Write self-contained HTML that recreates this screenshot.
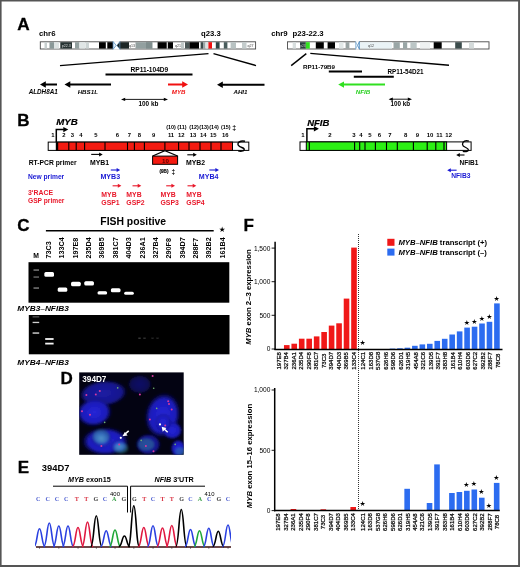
<!DOCTYPE html>
<html><head><meta charset="utf-8"><title>MYB-NFIB figure</title>
<style>
html,body{margin:0;padding:0;background:#fff;}
body{width:520px;height:567px;overflow:hidden;position:relative;font-family:"Liberation Sans", sans-serif;}
svg{position:absolute;left:0;top:0;}
svg text{font-family:"Liberation Sans", sans-serif;}
</style></head><body>
<svg width="520" height="567" viewBox="0 0 520 567">
<rect x="0" y="0" width="520" height="567" fill="#fff"/>
<path d="M0,0 H520 V567 H0 Z M1.6,1.6 V565.1 H518.1 V1.6 Z" fill="#555" fill-rule="evenodd"/>
<text x="17.2" y="30.3" font-size="17.2" font-weight="bold" font-style="normal" fill="#000" text-anchor="start" stroke="#000" stroke-width="0.3">A</text>
<text x="39" y="35.6" font-size="7.8" font-weight="bold" font-style="normal" fill="#000" text-anchor="start" >chr6</text>
<text x="201" y="35.8" font-size="7.7" font-weight="bold" font-style="normal" fill="#000" text-anchor="start" >q23.3</text>
<rect x="40.3" y="41.8" width="215.3" height="7.200000000000003" fill="#fff" stroke="#4a4a4a" stroke-width="0.9" />
<rect x="44.5" y="42.199999999999996" width="2.5" height="6.400000000000003" fill="#c8d0d0" stroke="none" stroke-width="0" />
<rect x="49.5" y="42.199999999999996" width="4.5" height="6.400000000000003" fill="#8a9898" stroke="none" stroke-width="0" />
<rect x="54" y="42.199999999999996" width="5" height="6.400000000000003" fill="#dde3e3" stroke="none" stroke-width="0" />
<rect x="60.3" y="42.199999999999996" width="11.700000000000003" height="6.400000000000003" fill="#283434" stroke="none" stroke-width="0" />
<rect x="75" y="42.199999999999996" width="4.400000000000006" height="6.400000000000003" fill="#93a0a0" stroke="none" stroke-width="0" />
<rect x="79.4" y="42.199999999999996" width="5.599999999999994" height="6.400000000000003" fill="#e0e6e6" stroke="none" stroke-width="0" />
<rect x="85.5" y="42.199999999999996" width="3.5" height="6.400000000000003" fill="#ccd4d4" stroke="none" stroke-width="0" />
<rect x="99" y="42.199999999999996" width="6.799999999999997" height="6.400000000000003" fill="#000" stroke="none" stroke-width="0" />
<rect x="107.3" y="42.199999999999996" width="5.799999999999997" height="6.400000000000003" fill="#000" stroke="none" stroke-width="0" />
<rect x="119.5" y="42.199999999999996" width="9.5" height="6.400000000000003" fill="#1c2626" stroke="none" stroke-width="0" />
<rect x="135.5" y="42.199999999999996" width="16.80000000000001" height="6.400000000000003" fill="#93a0a0" stroke="none" stroke-width="0" />
<rect x="146" y="42.199999999999996" width="6.300000000000011" height="6.400000000000003" fill="#7f8d8d" stroke="none" stroke-width="0" />
<rect x="157.6" y="42.199999999999996" width="9.099999999999994" height="6.400000000000003" fill="#000" stroke="none" stroke-width="0" />
<rect x="167.8" y="42.199999999999996" width="5.199999999999989" height="6.400000000000003" fill="#000" stroke="none" stroke-width="0" />
<rect x="181" y="42.199999999999996" width="3" height="6.400000000000003" fill="#c0c8c8" stroke="none" stroke-width="0" />
<rect x="185" y="42.199999999999996" width="4.400000000000006" height="6.400000000000003" fill="#4a5656" stroke="none" stroke-width="0" />
<rect x="189.4" y="42.199999999999996" width="9.599999999999994" height="6.400000000000003" fill="#000" stroke="none" stroke-width="0" />
<rect x="200.6" y="42.199999999999996" width="2.4000000000000057" height="6.400000000000003" fill="#3c4c4c" stroke="none" stroke-width="0" />
<rect x="203" y="42.199999999999996" width="2.5" height="6.400000000000003" fill="#9aa6a6" stroke="none" stroke-width="0" />
<rect x="205.5" y="42.199999999999996" width="2.5" height="6.400000000000003" fill="#dde3e3" stroke="none" stroke-width="0" />
<rect x="208.4" y="42.199999999999996" width="3.5999999999999943" height="6.400000000000003" fill="#f01010" stroke="none" stroke-width="0" />
<rect x="215.8" y="42.199999999999996" width="3.799999999999983" height="6.400000000000003" fill="#2c4444" stroke="none" stroke-width="0" />
<rect x="223.8" y="42.199999999999996" width="3.5999999999999943" height="6.400000000000003" fill="#4a5c5c" stroke="none" stroke-width="0" />
<rect x="230.6" y="42.199999999999996" width="5.400000000000006" height="6.400000000000003" fill="#b8c2c2" stroke="none" stroke-width="0" />
<rect x="242" y="42.199999999999996" width="4.5" height="6.400000000000003" fill="#c4cccc" stroke="none" stroke-width="0" />
<rect x="113.1" y="41.099999999999994" width="6.7" height="8.600000000000003" fill="#fff" stroke="none" stroke-width="0" />
<path d="M113.1,41.5 L116.2,45.4 L113.1,49.3 Z" fill="#e4eef6" stroke="#5a94c4" stroke-width="0.8"/>
<path d="M119.9,41.5 L116.8,45.4 L119.9,49.3 Z" fill="#1c2626" stroke="#5a94c4" stroke-width="0.6"/>
<text x="66.2" y="47.4" font-size="3.6" font-weight="normal" font-style="normal" fill="#ddd" text-anchor="middle" >p22.3</text>
<text x="132" y="47.4" font-size="3.6" font-weight="normal" font-style="normal" fill="#444" text-anchor="middle" >q13</text>
<text x="178" y="47.4" font-size="3.6" font-weight="normal" font-style="normal" fill="#444" text-anchor="middle" >q21</text>
<text x="250.5" y="47.4" font-size="3.6" font-weight="normal" font-style="normal" fill="#444" text-anchor="middle" >q27</text>
<line x1="208.5" y1="53.6" x2="60" y2="65.6" stroke="#000" stroke-width="1.4" />
<line x1="213.5" y1="53.6" x2="256" y2="65.6" stroke="#000" stroke-width="1.4" />
<text x="130.5" y="72" font-size="6.6" font-weight="bold" font-style="normal" fill="#000" text-anchor="start" >RP11-104D9</text>
<line x1="105.5" y1="74.6" x2="192.5" y2="74.6" stroke="#000" stroke-width="2" />
<line x1="57" y1="84.5" x2="43.48" y2="84.5" stroke="#000" stroke-width="2" />
<polygon points="40,84.5 45.8,81.3 45.8,87.7" fill="#000"/>
<line x1="111" y1="84.5" x2="67.98" y2="84.5" stroke="#000" stroke-width="2" />
<polygon points="64.5,84.5 70.3,81.3 70.3,87.7" fill="#000"/>
<line x1="168" y1="84.5" x2="184.52" y2="84.5" stroke="#f01010" stroke-width="2" />
<polygon points="188,84.5 182.2,81.3 182.2,87.7" fill="#f01010"/>
<line x1="264.5" y1="84.7" x2="220.48" y2="84.7" stroke="#000" stroke-width="2" />
<polygon points="217,84.7 222.8,81.5 222.8,87.9" fill="#000"/>
<text x="43.2" y="93.8" font-size="6.3" font-weight="bold" font-style="italic" fill="#000" text-anchor="middle" >ALDH8A1</text>
<text x="87.8" y="93.8" font-size="6.2" font-weight="bold" font-style="italic" fill="#000" text-anchor="middle" >HBS1L</text>
<text x="178.7" y="94.4" font-size="6.2" font-weight="bold" font-style="italic" fill="#f01010" text-anchor="middle" >MYB</text>
<text x="240.5" y="94.4" font-size="6.2" font-weight="bold" font-style="italic" fill="#000" text-anchor="middle" >AHI1</text>
<line x1="123" y1="99.4" x2="166" y2="99.4" stroke="#000" stroke-width="0.9" />
<polygon points="121,99.4 125.2,97.7 125.2,101.1" fill="#000"/><polygon points="168,99.4 163.8,97.7 163.8,101.1" fill="#000"/>
<text x="148.4" y="106.4" font-size="6.4" font-weight="bold" font-style="normal" fill="#000" text-anchor="middle" >100 kb</text>
<text x="271.2" y="35.6" font-size="7.8" font-weight="bold" font-style="normal" fill="#000" text-anchor="start" >chr9</text>
<text x="292.5" y="35.6" font-size="7.8" font-weight="bold" font-style="normal" fill="#000" text-anchor="start" >p23-22.3</text>
<rect x="287.5" y="41.8" width="201.5" height="7.200000000000003" fill="#fff" stroke="#4a4a4a" stroke-width="0.9" />
<rect x="359.8" y="42.199999999999996" width="32.19999999999999" height="6.400000000000003" fill="#eaf3f6" stroke="none" stroke-width="0" />
<rect x="292.7" y="42.199999999999996" width="3.3000000000000114" height="6.400000000000003" fill="#d8dede" stroke="none" stroke-width="0" />
<rect x="300" y="42.199999999999996" width="5.800000000000011" height="6.400000000000003" fill="#2c4040" stroke="none" stroke-width="0" />
<rect x="305.8" y="42.199999999999996" width="4.0" height="6.400000000000003" fill="#30e020" stroke="none" stroke-width="0" />
<rect x="315.8" y="42.199999999999996" width="8.0" height="6.400000000000003" fill="#000" stroke="none" stroke-width="0" />
<rect x="327.6" y="42.199999999999996" width="7.399999999999977" height="6.400000000000003" fill="#000" stroke="none" stroke-width="0" />
<rect x="339" y="42.199999999999996" width="4.5" height="6.400000000000003" fill="#e2e8e8" stroke="none" stroke-width="0" />
<rect x="345.6" y="42.199999999999996" width="3.7999999999999545" height="6.400000000000003" fill="#9aa4a4" stroke="none" stroke-width="0" />
<rect x="393.5" y="42.199999999999996" width="6.300000000000011" height="6.400000000000003" fill="#9aa6a6" stroke="none" stroke-width="0" />
<rect x="403" y="42.199999999999996" width="4.199999999999989" height="6.400000000000003" fill="#9aa6a6" stroke="none" stroke-width="0" />
<rect x="410.4" y="42.199999999999996" width="6.300000000000011" height="6.400000000000003" fill="#bcc6c6" stroke="none" stroke-width="0" />
<rect x="420" y="42.199999999999996" width="10" height="6.400000000000003" fill="#eef1f1" stroke="none" stroke-width="0" />
<rect x="433.7" y="42.199999999999996" width="8.0" height="6.400000000000003" fill="#000" stroke="none" stroke-width="0" />
<rect x="455.2" y="42.199999999999996" width="6.600000000000023" height="6.400000000000003" fill="#3c4c4c" stroke="none" stroke-width="0" />
<rect x="469" y="42.199999999999996" width="5" height="6.400000000000003" fill="#d4dada" stroke="none" stroke-width="0" />
<rect x="355.6" y="41.099999999999994" width="3.8" height="8.600000000000003" fill="#fff" stroke="none" stroke-width="0" />
<path d="M355.6,41.5 L357.3,45.4 L355.6,49.3 Z" fill="#f4f8fb" stroke="#6a9cc8" stroke-width="0.6"/>
<path d="M359.4,41.5 L357.6,45.4 L359.4,49.3 Z" fill="#dcebf4" stroke="#4a88c0" stroke-width="0.8"/>
<text x="371" y="47.4" font-size="3.6" font-weight="normal" font-style="normal" fill="#444" text-anchor="middle" >q12</text>
<text x="303" y="47.2" font-size="3.2" font-weight="normal" font-style="normal" fill="#ccc" text-anchor="middle" >p23</text>
<line x1="306.3" y1="53.6" x2="291.2" y2="65.6" stroke="#000" stroke-width="1.4" />
<line x1="310.3" y1="53.4" x2="449" y2="65.2" stroke="#000" stroke-width="1.4" />
<text x="303" y="68.9" font-size="6.2" font-weight="bold" font-style="normal" fill="#000" text-anchor="start" >RP11-79B9</text>
<line x1="328.8" y1="71.4" x2="362" y2="71.4" stroke="#000" stroke-width="2" />
<line x1="353.8" y1="76.7" x2="393.8" y2="76.7" stroke="#000" stroke-width="2" />
<text x="387.5" y="73.9" font-size="6.3" font-weight="bold" font-style="normal" fill="#000" text-anchor="start" >RP11-54D21</text>
<line x1="385" y1="84.6" x2="341.68" y2="84.6" stroke="#30e020" stroke-width="2" />
<polygon points="338.2,84.6 344.0,81.39999999999999 344.0,87.8" fill="#30e020"/>
<text x="363" y="93.9" font-size="6.2" font-weight="bold" font-style="italic" fill="#28d020" text-anchor="middle" >NFIB</text>
<line x1="390.5" y1="99.2" x2="410" y2="99.2" stroke="#000" stroke-width="0.9" />
<polygon points="388.6,99.2 392.8,97.5 392.8,100.9" fill="#000"/><polygon points="412,99.2 407.8,97.5 407.8,100.9" fill="#000"/>
<text x="400.3" y="106" font-size="6.3" font-weight="bold" font-style="normal" fill="#000" text-anchor="middle" >100 kb</text>
<text x="17.2" y="125.8" font-size="17" font-weight="bold" font-style="normal" fill="#000" text-anchor="start" stroke="#000" stroke-width="0.3">B</text>
<text x="56.3" y="125.2" font-size="9.7" font-weight="bold" font-style="italic" fill="#000" text-anchor="start" stroke="#000" stroke-width="0.2">MYB</text>
<path d="M56.3,142 V129.6 H64" stroke="#000" stroke-width="1.5" fill="none"/><polygon points="68.3,129.6 63.3,126.9 63.3,132.3" fill="#000"/>
<rect x="48.2" y="142.1" width="200.6" height="8.3" fill="#fff" stroke="#000" stroke-width="1" />
<rect x="56.3" y="142.1" width="176.2" height="8.3" fill="#f41a10" stroke="#000" stroke-width="1" />
<line x1="68.8" y1="142.1" x2="68.8" y2="150.4" stroke="#000" stroke-width="1.1" />
<line x1="76.2" y1="142.1" x2="76.2" y2="150.4" stroke="#000" stroke-width="1.1" />
<line x1="84.6" y1="142.1" x2="84.6" y2="150.4" stroke="#000" stroke-width="1.1" />
<line x1="105" y1="142.1" x2="105" y2="150.4" stroke="#000" stroke-width="1.1" />
<line x1="127.5" y1="142.1" x2="127.5" y2="150.4" stroke="#000" stroke-width="1.1" />
<line x1="134.4" y1="142.1" x2="134.4" y2="150.4" stroke="#000" stroke-width="1.1" />
<line x1="144.4" y1="142.1" x2="144.4" y2="150.4" stroke="#000" stroke-width="1.1" />
<line x1="164.9" y1="142.1" x2="164.9" y2="150.4" stroke="#000" stroke-width="1.1" />
<line x1="178.6" y1="142.1" x2="178.6" y2="150.4" stroke="#000" stroke-width="1.1" />
<line x1="189" y1="142.1" x2="189" y2="150.4" stroke="#000" stroke-width="1.1" />
<line x1="200" y1="142.1" x2="200" y2="150.4" stroke="#000" stroke-width="1.1" />
<line x1="211" y1="142.1" x2="211" y2="150.4" stroke="#000" stroke-width="1.1" />
<line x1="221" y1="142.1" x2="221" y2="150.4" stroke="#000" stroke-width="1.1" />
<line x1="57.1" y1="142.1" x2="57.1" y2="150.4" stroke="#000" stroke-width="2.2" />
<path d="M245,141.3 C240.5,140.2 236.6,142.6 238.4,145.4 C240,147.8 244.6,147.4 244.2,149.6 C243.8,151.4 240.4,151.5 238.2,150.9" stroke="#000" stroke-width="1.4" fill="none"/>
<text x="53" y="136.9" font-size="5.9" font-weight="bold" font-style="normal" fill="#000" text-anchor="middle" >1</text>
<text x="64" y="136.9" font-size="5.9" font-weight="bold" font-style="normal" fill="#000" text-anchor="middle" >2</text>
<text x="72.5" y="136.9" font-size="5.9" font-weight="bold" font-style="normal" fill="#000" text-anchor="middle" >3</text>
<text x="81" y="136.9" font-size="5.9" font-weight="bold" font-style="normal" fill="#000" text-anchor="middle" >4</text>
<text x="96" y="136.9" font-size="5.9" font-weight="bold" font-style="normal" fill="#000" text-anchor="middle" >5</text>
<text x="117.5" y="136.9" font-size="5.9" font-weight="bold" font-style="normal" fill="#000" text-anchor="middle" >6</text>
<text x="129.5" y="136.9" font-size="5.9" font-weight="bold" font-style="normal" fill="#000" text-anchor="middle" >7</text>
<text x="139.5" y="136.9" font-size="5.9" font-weight="bold" font-style="normal" fill="#000" text-anchor="middle" >8</text>
<text x="153.7" y="136.9" font-size="5.9" font-weight="bold" font-style="normal" fill="#000" text-anchor="middle" >9</text>
<text x="171" y="136.9" font-size="5.9" font-weight="bold" font-style="normal" fill="#000" text-anchor="middle" >11</text>
<text x="181.3" y="136.9" font-size="5.9" font-weight="bold" font-style="normal" fill="#000" text-anchor="middle" >12</text>
<text x="193" y="136.9" font-size="5.9" font-weight="bold" font-style="normal" fill="#000" text-anchor="middle" >13</text>
<text x="203.3" y="136.9" font-size="5.9" font-weight="bold" font-style="normal" fill="#000" text-anchor="middle" >14</text>
<text x="213.3" y="136.9" font-size="5.9" font-weight="bold" font-style="normal" fill="#000" text-anchor="middle" >15</text>
<text x="225.3" y="136.9" font-size="5.9" font-weight="bold" font-style="normal" fill="#000" text-anchor="middle" >16</text>
<text x="171" y="129.4" font-size="5.4" font-weight="bold" font-style="normal" fill="#000" text-anchor="middle" >(10)</text>
<text x="181.8" y="129.4" font-size="5.4" font-weight="bold" font-style="normal" fill="#000" text-anchor="middle" >(11)</text>
<text x="194" y="129.4" font-size="5.4" font-weight="bold" font-style="normal" fill="#000" text-anchor="middle" >(12)</text>
<text x="204" y="129.4" font-size="5.4" font-weight="bold" font-style="normal" fill="#000" text-anchor="middle" >(13)</text>
<text x="214" y="129.4" font-size="5.4" font-weight="bold" font-style="normal" fill="#000" text-anchor="middle" >(14)</text>
<text x="225.8" y="129.4" font-size="5.4" font-weight="bold" font-style="normal" fill="#000" text-anchor="middle" >(15)</text>
<text x="234.3" y="129.8" font-size="7" font-weight="bold" font-style="normal" fill="#000" text-anchor="middle" >‡</text>
<path d="M152.7,156 L164.9,150.6 L177.6,156" stroke="#000" stroke-width="1.2" fill="#fff"/>
<rect x="152.6" y="156.1" width="25" height="8.2" fill="#f41a10" stroke="#000" stroke-width="1" />
<text x="165.4" y="162.9" font-size="6.2" font-weight="bold" font-style="normal" fill="#5a0000" text-anchor="middle" >10</text>
<text x="164" y="172.9" font-size="4.6" font-weight="bold" font-style="normal" fill="#000" text-anchor="middle" stroke="#000" stroke-width="0.15">(9B)</text>
<text x="173.2" y="173.6" font-size="6.5" font-weight="bold" font-style="normal" fill="#000" text-anchor="middle" >‡</text>
<text x="28.7" y="164.8" font-size="6.75" font-weight="bold" font-style="normal" fill="#000" text-anchor="start" >RT-PCR primer</text>
<text x="90" y="164.6" font-size="6.9" font-weight="bold" font-style="normal" fill="#000" text-anchor="start" >MYB1</text>
<line x1="91.2" y1="154.4" x2="100.54" y2="154.4" stroke="#000" stroke-width="1.1" />
<polygon points="102.7,154.4 99.10000000000001,152.4 99.10000000000001,156.4" fill="#000"/>
<text x="186" y="164.6" font-size="6.9" font-weight="bold" font-style="normal" fill="#000" text-anchor="start" >MYB2</text>
<line x1="187.3" y1="154.8" x2="194.64000000000001" y2="154.8" stroke="#000" stroke-width="1.1" />
<polygon points="196.8,154.8 193.20000000000002,152.8 193.20000000000002,156.8" fill="#000"/>
<text x="28" y="178.8" font-size="6.65" font-weight="bold" font-style="normal" fill="#1818d4" text-anchor="start" >New primer</text>
<text x="100.4" y="179" font-size="7.1" font-weight="bold" font-style="normal" fill="#1818d4" text-anchor="start" >MYB3</text>
<line x1="110.8" y1="170" x2="118.04" y2="170" stroke="#1818d4" stroke-width="1.1" />
<polygon points="120.2,170 116.60000000000001,168 116.60000000000001,172" fill="#1818d4"/>
<text x="198.8" y="179" font-size="7.1" font-weight="bold" font-style="normal" fill="#1818d4" text-anchor="start" >MYB4</text>
<line x1="209.3" y1="170" x2="216.84" y2="170" stroke="#1818d4" stroke-width="1.1" />
<polygon points="219,170 215.4,168 215.4,172" fill="#1818d4"/>
<text x="28" y="195" font-size="6.9" font-weight="bold" font-style="normal" fill="#e8182a" text-anchor="start" >3ʹRACE</text>
<text x="28" y="203" font-size="6.65" font-weight="bold" font-style="normal" fill="#e8182a" text-anchor="start" >GSP primer</text>
<text x="101.3" y="196.7" font-size="6.9" font-weight="bold" font-style="normal" fill="#e8182a" text-anchor="start" >MYB</text>
<text x="101.3" y="204.6" font-size="6.9" font-weight="bold" font-style="normal" fill="#e8182a" text-anchor="start" >GSP1</text>
<line x1="112.6" y1="185.8" x2="119.24" y2="185.8" stroke="#e8182a" stroke-width="1.1" />
<polygon points="121.39999999999999,185.8 117.8,183.8 117.8,187.8" fill="#e8182a"/>
<text x="126.3" y="196.7" font-size="6.9" font-weight="bold" font-style="normal" fill="#e8182a" text-anchor="start" >MYB</text>
<text x="126.3" y="204.6" font-size="6.9" font-weight="bold" font-style="normal" fill="#e8182a" text-anchor="start" >GSP2</text>
<line x1="132.5" y1="185.8" x2="139.14000000000001" y2="185.8" stroke="#e8182a" stroke-width="1.1" />
<polygon points="141.3,185.8 137.70000000000002,183.8 137.70000000000002,187.8" fill="#e8182a"/>
<text x="160.5" y="196.7" font-size="6.9" font-weight="bold" font-style="normal" fill="#e8182a" text-anchor="start" >MYB</text>
<text x="160.5" y="204.6" font-size="6.9" font-weight="bold" font-style="normal" fill="#e8182a" text-anchor="start" >GSP3</text>
<line x1="166.2" y1="185.8" x2="172.84" y2="185.8" stroke="#e8182a" stroke-width="1.1" />
<polygon points="175.0,185.8 171.4,183.8 171.4,187.8" fill="#e8182a"/>
<text x="186.3" y="196.7" font-size="6.9" font-weight="bold" font-style="normal" fill="#e8182a" text-anchor="start" >MYB</text>
<text x="186.3" y="204.6" font-size="6.9" font-weight="bold" font-style="normal" fill="#e8182a" text-anchor="start" >GSP4</text>
<line x1="187.5" y1="185.8" x2="194.14000000000001" y2="185.8" stroke="#e8182a" stroke-width="1.1" />
<polygon points="196.3,185.8 192.70000000000002,183.8 192.70000000000002,187.8" fill="#e8182a"/>
<text x="307.2" y="125.6" font-size="9.5" font-weight="bold" font-style="italic" fill="#000" text-anchor="start" stroke="#000" stroke-width="0.2">NFIB</text>
<path d="M306.9,142 V128.7 H314.5" stroke="#000" stroke-width="1.5" fill="none"/><polygon points="318.9,128.7 313.9,126 313.9,131.4" fill="#000"/>
<rect x="300" y="141.9" width="171.1" height="8.5" fill="#fff" stroke="#000" stroke-width="1" />
<rect x="306.3" y="141.9" width="140.3" height="8.5" fill="#2cf014" stroke="#000" stroke-width="1" />
<line x1="309.3" y1="141.9" x2="309.3" y2="150.4" stroke="#000" stroke-width="1.1" />
<line x1="354.6" y1="141.9" x2="354.6" y2="150.4" stroke="#000" stroke-width="1.1" />
<line x1="359.7" y1="141.9" x2="359.7" y2="150.4" stroke="#000" stroke-width="1.1" />
<line x1="365" y1="141.9" x2="365" y2="150.4" stroke="#000" stroke-width="1.1" />
<line x1="375.4" y1="141.9" x2="375.4" y2="150.4" stroke="#000" stroke-width="1.1" />
<line x1="386.5" y1="141.9" x2="386.5" y2="150.4" stroke="#000" stroke-width="1.1" />
<line x1="397.3" y1="141.9" x2="397.3" y2="150.4" stroke="#000" stroke-width="1.1" />
<line x1="413.4" y1="141.9" x2="413.4" y2="150.4" stroke="#000" stroke-width="1.1" />
<line x1="427.2" y1="141.9" x2="427.2" y2="150.4" stroke="#000" stroke-width="1.1" />
<line x1="435.8" y1="141.9" x2="435.8" y2="150.4" stroke="#000" stroke-width="1.1" />
<line x1="444" y1="141.9" x2="444" y2="150.4" stroke="#000" stroke-width="1.2" />
<path d="M468.8,141.2 C466,139.8 462.4,141.4 462.5,144.4 C462.6,147.6 468.6,147.4 468.4,150 C468.2,151.8 464.8,151.9 462.8,151.3" stroke="#000" stroke-width="1.3" fill="none"/>
<text x="303" y="136.5" font-size="6.0" font-weight="bold" font-style="normal" fill="#000" text-anchor="middle" >1</text>
<text x="330" y="136.5" font-size="6.0" font-weight="bold" font-style="normal" fill="#000" text-anchor="middle" >2</text>
<text x="354" y="136.5" font-size="6.0" font-weight="bold" font-style="normal" fill="#000" text-anchor="middle" >3</text>
<text x="361" y="136.5" font-size="6.0" font-weight="bold" font-style="normal" fill="#000" text-anchor="middle" >4</text>
<text x="369.8" y="136.5" font-size="6.0" font-weight="bold" font-style="normal" fill="#000" text-anchor="middle" >5</text>
<text x="379.3" y="136.5" font-size="6.0" font-weight="bold" font-style="normal" fill="#000" text-anchor="middle" >6</text>
<text x="389.8" y="136.5" font-size="6.0" font-weight="bold" font-style="normal" fill="#000" text-anchor="middle" >7</text>
<text x="405.7" y="136.5" font-size="6.0" font-weight="bold" font-style="normal" fill="#000" text-anchor="middle" >8</text>
<text x="417.3" y="136.5" font-size="6.0" font-weight="bold" font-style="normal" fill="#000" text-anchor="middle" >9</text>
<text x="430" y="136.5" font-size="6.0" font-weight="bold" font-style="normal" fill="#000" text-anchor="middle" >10</text>
<text x="439.5" y="136.5" font-size="6.0" font-weight="bold" font-style="normal" fill="#000" text-anchor="middle" >11</text>
<text x="448.7" y="136.5" font-size="6.0" font-weight="bold" font-style="normal" fill="#000" text-anchor="middle" >12</text>
<line x1="464.5" y1="155" x2="458.36" y2="155" stroke="#000" stroke-width="1.1" />
<polygon points="456.2,155 459.8,153 459.8,157" fill="#000"/>
<text x="459.6" y="164.5" font-size="6.5" font-weight="bold" font-style="normal" fill="#000" text-anchor="start" >NFIB1</text>
<line x1="456.6" y1="170.2" x2="449.36" y2="170.2" stroke="#1818d4" stroke-width="1.1" />
<polygon points="447.2,170.2 450.8,168.2 450.8,172.2" fill="#1818d4"/>
<text x="451.2" y="178" font-size="6.7" font-weight="bold" font-style="normal" fill="#1818d4" text-anchor="start" >NFIB3</text>
<text x="17.2" y="231" font-size="17" font-weight="bold" font-style="normal" fill="#000" text-anchor="start" stroke="#000" stroke-width="0.3">C</text>
<text x="133.2" y="225.2" font-size="10.4" font-weight="bold" font-style="normal" fill="#000" text-anchor="middle" >FISH positive</text>
<line x1="45.9" y1="230.8" x2="213.7" y2="230.8" stroke="#000" stroke-width="1.4" />
<text x="222.2" y="232.036" font-size="7.6" text-anchor="middle" style='font-family:"DejaVu Sans", sans-serif' fill="#000">★</text>
<text x="36.1" y="257.5" font-size="6.8" font-weight="bold" font-style="normal" fill="#000" text-anchor="middle" >M</text>
<text transform="translate(50.9,258.5) rotate(-90)" font-size="7.2" font-weight="bold" font-style="normal" fill="#000" text-anchor="start" >73C3</text>
<text transform="translate(64.28,258.5) rotate(-90)" font-size="7.2" font-weight="bold" font-style="normal" fill="#000" text-anchor="start" >133C4</text>
<text transform="translate(77.66,258.5) rotate(-90)" font-size="7.2" font-weight="bold" font-style="normal" fill="#000" text-anchor="start" >197E8</text>
<text transform="translate(91.03999999999999,258.5) rotate(-90)" font-size="7.2" font-weight="bold" font-style="normal" fill="#000" text-anchor="start" >235D4</text>
<text transform="translate(104.41999999999999,258.5) rotate(-90)" font-size="7.2" font-weight="bold" font-style="normal" fill="#000" text-anchor="start" >369B5</text>
<text transform="translate(117.8,258.5) rotate(-90)" font-size="7.2" font-weight="bold" font-style="normal" fill="#000" text-anchor="start" >381C7</text>
<text transform="translate(131.17999999999998,258.5) rotate(-90)" font-size="7.2" font-weight="bold" font-style="normal" fill="#000" text-anchor="start" >404D3</text>
<text transform="translate(144.56,258.5) rotate(-90)" font-size="7.2" font-weight="bold" font-style="normal" fill="#000" text-anchor="start" >236A1</text>
<text transform="translate(157.94,258.5) rotate(-90)" font-size="7.2" font-weight="bold" font-style="normal" fill="#000" text-anchor="start" >327B4</text>
<text transform="translate(171.32,258.5) rotate(-90)" font-size="7.2" font-weight="bold" font-style="normal" fill="#000" text-anchor="start" >290F8</text>
<text transform="translate(184.70000000000002,258.5) rotate(-90)" font-size="7.2" font-weight="bold" font-style="normal" fill="#000" text-anchor="start" >394D7</text>
<text transform="translate(198.08,258.5) rotate(-90)" font-size="7.2" font-weight="bold" font-style="normal" fill="#000" text-anchor="start" >288F7</text>
<text transform="translate(211.46,258.5) rotate(-90)" font-size="7.2" font-weight="bold" font-style="normal" fill="#000" text-anchor="start" >392B2</text>
<text transform="translate(224.84,258.5) rotate(-90)" font-size="7.2" font-weight="bold" font-style="normal" fill="#000" text-anchor="start" >161B4</text>
<defs><filter id="bl" x="-20%" y="-60%" width="140%" height="220%"><feGaussianBlur stdDeviation="0.7"/></filter><filter id="bl2" x="-20%" y="-60%" width="140%" height="220%"><feGaussianBlur stdDeviation="0.45"/></filter></defs>
<rect x="28.5" y="262.2" width="200.8" height="40.5" fill="#000" stroke="none" stroke-width="0" />
<rect x="33.5" y="269.4" width="5.5" height="1.3" fill="#8a8a8a" stroke="none" stroke-width="0" filter="url(#bl2)"/>
<rect x="33.5" y="276.4" width="5.5" height="1.3" fill="#707070" stroke="none" stroke-width="0" filter="url(#bl2)"/>
<rect x="33.5" y="287.4" width="5.5" height="1.3" fill="#8a8a8a" stroke="none" stroke-width="0" filter="url(#bl2)"/>
<rect x="44.400000000000006" y="272.09999999999997" width="9.6" height="4.6" rx="1.5" fill="#fff" filter="url(#bl)"/>
<rect x="44.800000000000004" y="272.7" width="8.8" height="3.3999999999999995" rx="1.2" fill="#fff"/>
<rect x="57.7" y="287.5" width="9.6" height="4.2" rx="1.5" fill="#fff" filter="url(#bl)"/>
<rect x="58.1" y="288.1" width="8.8" height="3.0" rx="1.2" fill="#fff"/>
<rect x="71.10000000000001" y="281.7" width="9.6" height="4.6" rx="1.5" fill="#fff" filter="url(#bl)"/>
<rect x="71.5" y="282.3" width="8.8" height="3.3999999999999995" rx="1.2" fill="#fff"/>
<rect x="84.3" y="281.2" width="9.6" height="4.4" rx="1.5" fill="#fff" filter="url(#bl)"/>
<rect x="84.69999999999999" y="281.8" width="8.8" height="3.2" rx="1.2" fill="#fff"/>
<rect x="97.5" y="291.2" width="9.6" height="3.4" rx="1.5" fill="#fff" filter="url(#bl)"/>
<rect x="97.89999999999999" y="291.8" width="8.8" height="2.2" rx="1.2" fill="#fff"/>
<rect x="110.9" y="288.3" width="9.6" height="4.0" rx="1.5" fill="#fff" filter="url(#bl)"/>
<rect x="111.3" y="288.90000000000003" width="8.8" height="2.8" rx="1.2" fill="#fff"/>
<rect x="124.2" y="291.7" width="9.6" height="3.0" rx="1.5" fill="#fff" filter="url(#bl)"/>
<rect x="124.6" y="292.3" width="8.8" height="1.8" rx="1.2" fill="#fff"/>
<text x="17.3" y="311" font-size="7.8" font-weight="bold" font-style="italic" fill="#000" text-anchor="start" textLength="51.5" lengthAdjust="spacingAndGlyphs">MYB3–NFIB3</text>
<rect x="28.8" y="315" width="200.7" height="39.3" fill="#000" stroke="none" stroke-width="0" />
<rect x="32.6" y="316.2" width="6.6" height="1.3" fill="#555" stroke="none" stroke-width="0" filter="url(#bl2)"/>
<rect x="32.6" y="321.79999999999995" width="6.6" height="1.3" fill="#cfcfcf" stroke="none" stroke-width="0" filter="url(#bl2)"/>
<rect x="32.6" y="332.4" width="6.6" height="1.3" fill="#e4e4e4" stroke="none" stroke-width="0" filter="url(#bl2)"/>
<rect x="45.2" y="338.1" width="8.4" height="1.8" fill="#f4f4f4" stroke="none" stroke-width="0" filter="url(#bl2)"/>
<rect x="45.2" y="342.70000000000005" width="8.4" height="1.8" fill="#f4f4f4" stroke="none" stroke-width="0" filter="url(#bl2)"/>
<rect x="138.3" y="337.6" width="2.4" height="1.2" fill="#444" stroke="none" stroke-width="0" filter="url(#bl2)"/>
<rect x="143.3" y="337.6" width="2.4" height="1.2" fill="#3a3a3a" stroke="none" stroke-width="0" filter="url(#bl2)"/>
<rect x="151.3" y="337.6" width="2.4" height="1.2" fill="#2c2c2c" stroke="none" stroke-width="0" filter="url(#bl2)"/>
<rect x="156.3" y="337.6" width="2.4" height="1.2" fill="#2c2c2c" stroke="none" stroke-width="0" filter="url(#bl2)"/>
<text x="17.3" y="364.7" font-size="7.8" font-weight="bold" font-style="italic" fill="#000" text-anchor="start" textLength="51.5" lengthAdjust="spacingAndGlyphs">MYB4–NFIB3</text>
<text x="60.4" y="384" font-size="17" font-weight="bold" font-style="normal" fill="#000" text-anchor="start" stroke="#000" stroke-width="0.3">D</text>
<defs>
<radialGradient id="g1"><stop offset="0" stop-color="#2626d8"/><stop offset="0.75" stop-color="#1a1ab8"/><stop offset="1" stop-color="#0c0c60" stop-opacity="0.2"/></radialGradient>
<radialGradient id="g2"><stop offset="0" stop-color="#1c1ca4"/><stop offset="0.8" stop-color="#16168c"/><stop offset="1" stop-color="#080838" stop-opacity="0.2"/></radialGradient>
<radialGradient id="g3"><stop offset="0" stop-color="#5a84e4"/><stop offset="0.55" stop-color="#2c44cc"/><stop offset="1" stop-color="#141470" stop-opacity="0.2"/></radialGradient>
<radialGradient id="g4"><stop offset="0" stop-color="#101068"/><stop offset="0.8" stop-color="#0c0c50"/><stop offset="1" stop-color="#060628" stop-opacity="0"/></radialGradient>
<filter id="fb" x="-20%" y="-20%" width="140%" height="140%"><feGaussianBlur stdDeviation="1.3"/></filter>
<filter id="fd" x="-50%" y="-50%" width="200%" height="200%"><feGaussianBlur stdDeviation="0.5"/></filter>
<clipPath id="cd"><rect x="79.2" y="372.4" width="104.5" height="82.4"/></clipPath>
</defs>
<rect x="79.2" y="372.4" width="104.5" height="82.4" fill="#030312" stroke="none" stroke-width="0" />
<g clip-path="url(#cd)"><g transform="translate(79.2,372.4)">
<g filter="url(#fb)">
<ellipse cx="24" cy="21" rx="24" ry="13" fill="url(#g2)" transform="rotate(-6 24 21)"/>
<ellipse cx="60.5" cy="12" rx="12" ry="9.5" fill="url(#g4)" transform="rotate(0 60.5 12)"/>
<ellipse cx="15" cy="40" rx="17.5" ry="14" fill="url(#g1)" transform="rotate(-8 15 40)"/>
<ellipse cx="83.5" cy="43" rx="17.5" ry="22.5" fill="url(#g1)" transform="rotate(12 83.5 43)"/>
<ellipse cx="93" cy="58" rx="10" ry="9" fill="url(#g1)" transform="rotate(0 93 58)"/>
<ellipse cx="26" cy="69" rx="23" ry="14" fill="url(#g1)" transform="rotate(0 26 69)"/>
<ellipse cx="69" cy="72" rx="12.5" ry="10.5" fill="url(#g2)" transform="rotate(0 69 72)"/>
<ellipse cx="99" cy="76" rx="7.5" ry="9" fill="url(#g1)" transform="rotate(0 99 76)"/>
<ellipse cx="22" cy="66" rx="11" ry="9" fill="url(#g3)" transform="rotate(20 22 66)"/>
<ellipse cx="40" cy="74" rx="9" ry="7" fill="url(#g3)" transform="rotate(0 40 74)"/>
<ellipse cx="84" cy="50" rx="8" ry="9" fill="url(#g1)" transform="rotate(0 84 50)"/>
<ellipse cx="22" cy="64" rx="8" ry="7" fill="#40b098" opacity="0.35"/>
<ellipse cx="67" cy="72" rx="8" ry="6" fill="#40b098" opacity="0.35"/>
<ellipse cx="42" cy="76" rx="7" ry="5" fill="#40b098" opacity="0.35"/>
<ellipse cx="101" cy="79" rx="5" ry="4" fill="#40b098" opacity="0.35"/>
</g>
<circle cx="7.2" cy="22.5" r="1" fill="#d838a0" filter="url(#fd)"/>
<circle cx="16.6" cy="22.2" r="1" fill="#d838a0" filter="url(#fd)"/>
<circle cx="20.6" cy="18.6" r="1" fill="#d838a0" filter="url(#fd)"/>
<circle cx="2.8" cy="38.8" r="1" fill="#d838a0" filter="url(#fd)"/>
<circle cx="10.8" cy="42.4" r="1" fill="#d838a0" filter="url(#fd)"/>
<circle cx="22.2" cy="73.6" r="1" fill="#d838a0" filter="url(#fd)"/>
<circle cx="60.7" cy="22.2" r="1" fill="#d838a0" filter="url(#fd)"/>
<circle cx="89" cy="28.9" r="1" fill="#d838a0" filter="url(#fd)"/>
<circle cx="89.8" cy="31.7" r="1" fill="#d838a0" filter="url(#fd)"/>
<circle cx="92.5" cy="37.1" r="1" fill="#d838a0" filter="url(#fd)"/>
<circle cx="70.7" cy="47.1" r="1" fill="#d838a0" filter="url(#fd)"/>
<circle cx="66.7" cy="73.6" r="1" fill="#d838a0" filter="url(#fd)"/>
<circle cx="74.3" cy="78.9" r="1" fill="#d838a0" filter="url(#fd)"/>
<circle cx="73.4" cy="3.5" r="1" fill="#d838a0" filter="url(#fd)"/>
<circle cx="86" cy="53" r="1" fill="#d838a0" filter="url(#fd)"/>
<circle cx="40" cy="72" r="1" fill="#d838a0" filter="url(#fd)"/>
<circle cx="38.5" cy="15.5" r="0.8" fill="#70b070" filter="url(#fd)"/>
<circle cx="25.5" cy="50" r="0.8" fill="#70b070" filter="url(#fd)"/>
<circle cx="77.5" cy="36" r="0.8" fill="#70b070" filter="url(#fd)"/>
<circle cx="74.5" cy="15.8" r="0.8" fill="#70b070" filter="url(#fd)"/>
<circle cx="62" cy="68" r="0.8" fill="#70b070" filter="url(#fd)"/>
<circle cx="96" cy="72" r="0.8" fill="#70b070" filter="url(#fd)"/>
<circle cx="41.6" cy="65.4" r="1.1" fill="#fff"/>
<circle cx="80.8" cy="52" r="1.1" fill="#fff"/>
<g stroke="#fff" stroke-width="1.5" fill="#fff"><line x1="49.5" y1="58.5" x2="46" y2="61.5"/><polygon points="43.2,63.8 48.4,63.2 45.6,59.6" stroke="none"/><line x1="88.5" y1="59.8" x2="85" y2="56.6"/><polygon points="82.5,54.3 83.5,59.4 87.2,55.6" stroke="none"/></g>
</g></g>
<text x="82.3" y="381.8" font-size="8.2" font-weight="bold" font-style="normal" fill="#fff" text-anchor="start" >394D7</text>
<text x="17.8" y="473.3" font-size="17" font-weight="bold" font-style="normal" fill="#000" text-anchor="start" stroke="#000" stroke-width="0.3">E</text>
<text x="41.8" y="471.1" font-size="9.4" font-weight="bold" font-style="normal" fill="#000" text-anchor="start" >394D7</text>
<text x="68" y="482.2" font-size="7.2" font-weight="bold"><tspan font-style="italic">MYB</tspan> exon15</text>
<text x="154.5" y="482" font-size="7.2" font-weight="bold"><tspan font-style="italic">NFIB</tspan> 3ʹUTR</text>
<path d="M53,486.2 H127.5 V512.5 M205,486.2 H130.6 V512.5" stroke="#000" stroke-width="1" fill="none"/>
<text x="115" y="495.5" font-size="5.9" font-weight="normal" font-style="normal" fill="#000" text-anchor="middle" >400</text>
<text x="209.5" y="495.5" font-size="5.9" font-weight="normal" font-style="normal" fill="#000" text-anchor="middle" >410</text>
<text x="38.3" y="501.3" font-size="6.1" font-weight="bold" font-style="normal" fill="#4a5cd0" text-anchor="middle" style='font-family:"Liberation Serif", serif' >C</text>
<text x="47.6" y="501.3" font-size="6.1" font-weight="bold" font-style="normal" fill="#4a5cd0" text-anchor="middle" style='font-family:"Liberation Serif", serif' >C</text>
<text x="57" y="501.3" font-size="6.1" font-weight="bold" font-style="normal" fill="#4a5cd0" text-anchor="middle" style='font-family:"Liberation Serif", serif' >C</text>
<text x="66.3" y="501.3" font-size="6.1" font-weight="bold" font-style="normal" fill="#4a5cd0" text-anchor="middle" style='font-family:"Liberation Serif", serif' >C</text>
<text x="76.8" y="501.3" font-size="6.1" font-weight="bold" font-style="normal" fill="#d83040" text-anchor="middle" style='font-family:"Liberation Serif", serif' >T</text>
<text x="86.3" y="501.3" font-size="6.1" font-weight="bold" font-style="normal" fill="#d83040" text-anchor="middle" style='font-family:"Liberation Serif", serif' >T</text>
<text x="95.8" y="501.3" font-size="6.1" font-weight="bold" font-style="normal" fill="#3a3a3a" text-anchor="middle" style='font-family:"Liberation Serif", serif' >G</text>
<text x="105" y="501.3" font-size="6.1" font-weight="bold" font-style="normal" fill="#4a5cd0" text-anchor="middle" style='font-family:"Liberation Serif", serif' >C</text>
<text x="114.3" y="501.3" font-size="6.1" font-weight="bold" font-style="normal" fill="#38a048" text-anchor="middle" style='font-family:"Liberation Serif", serif' >A</text>
<text x="123.8" y="501.3" font-size="6.1" font-weight="bold" font-style="normal" fill="#3a3a3a" text-anchor="middle" style='font-family:"Liberation Serif", serif' >G</text>
<text x="134.3" y="501.3" font-size="6.1" font-weight="bold" font-style="normal" fill="#3a3a3a" text-anchor="middle" style='font-family:"Liberation Serif", serif' >G</text>
<text x="144.2" y="501.3" font-size="6.1" font-weight="bold" font-style="normal" fill="#d83040" text-anchor="middle" style='font-family:"Liberation Serif", serif' >T</text>
<text x="153" y="501.3" font-size="6.1" font-weight="bold" font-style="normal" fill="#4a5cd0" text-anchor="middle" style='font-family:"Liberation Serif", serif' >C</text>
<text x="162.5" y="501.3" font-size="6.1" font-weight="bold" font-style="normal" fill="#d83040" text-anchor="middle" style='font-family:"Liberation Serif", serif' >T</text>
<text x="171.8" y="501.3" font-size="6.1" font-weight="bold" font-style="normal" fill="#d83040" text-anchor="middle" style='font-family:"Liberation Serif", serif' >T</text>
<text x="181.6" y="501.3" font-size="6.1" font-weight="bold" font-style="normal" fill="#3a3a3a" text-anchor="middle" style='font-family:"Liberation Serif", serif' >G</text>
<text x="190.5" y="501.3" font-size="6.1" font-weight="bold" font-style="normal" fill="#4a5cd0" text-anchor="middle" style='font-family:"Liberation Serif", serif' >C</text>
<text x="200" y="501.3" font-size="6.1" font-weight="bold" font-style="normal" fill="#38a048" text-anchor="middle" style='font-family:"Liberation Serif", serif' >A</text>
<text x="209.3" y="501.3" font-size="6.1" font-weight="bold" font-style="normal" fill="#4a5cd0" text-anchor="middle" style='font-family:"Liberation Serif", serif' >C</text>
<text x="218.8" y="501.3" font-size="6.1" font-weight="bold" font-style="normal" fill="#3a3a3a" text-anchor="middle" style='font-family:"Liberation Serif", serif' >G</text>
<text x="228" y="501.3" font-size="6.1" font-weight="bold" font-style="normal" fill="#4a5cd0" text-anchor="middle" style='font-family:"Liberation Serif", serif' >C</text>
<clipPath id="ce"><rect x="35" y="500" width="196" height="50"/></clipPath><g clip-path="url(#ce)">
<line x1="36" y1="547.0" x2="231" y2="547.0" stroke="#3a0c0c" stroke-width="1.3" />
<path d="M33.9,546.7 C36.98,546.7 37.148,528.7 39.5,528.7 C41.852,528.7 42.02,546.7 45.1,546.7" stroke="#2a40e0" stroke-width="1.6" fill="none"/>
<path d="M43.699999999999996,546.7 C46.779999999999994,546.7 46.948,523 49.3,523 C51.651999999999994,523 51.82,546.7 54.9,546.7" stroke="#2a40e0" stroke-width="1.6" fill="none"/>
<path d="M53.199999999999996,546.7 C56.279999999999994,546.7 56.448,526 58.8,526 C61.151999999999994,526 61.32,546.7 64.39999999999999,546.7" stroke="#2a40e0" stroke-width="1.6" fill="none"/>
<path d="M62.4,546.7 C65.48,546.7 65.648,526 68,526 C70.352,526 70.52,546.7 73.6,546.7" stroke="#2a40e0" stroke-width="1.6" fill="none"/>
<path d="M72.4,546.7 C75.48,546.7 75.648,527.5 78,527.5 C80.352,527.5 80.52,546.7 83.6,546.7" stroke="#e01840" stroke-width="1.6" fill="none"/>
<path d="M81.9,546.7 C84.98,546.7 85.148,522 87.5,522 C89.852,522 90.02,546.7 93.1,546.7" stroke="#e01840" stroke-width="1.6" fill="none"/>
<path d="M90.7,546.7 C93.78,546.7 93.948,515.7 96.3,515.7 C98.652,515.7 98.82,546.7 101.89999999999999,546.7" stroke="#000" stroke-width="1.6" fill="none"/>
<path d="M100.60000000000001,546.7 C103.68,546.7 103.848,530.7 106.2,530.7 C108.552,530.7 108.72,546.7 111.8,546.7" stroke="#2a40e0" stroke-width="1.6" fill="none"/>
<path d="M109.4,546.7 C112.48,546.7 112.648,530 115,530 C117.352,530 117.52,546.7 120.6,546.7" stroke="#20a838" stroke-width="1.6" fill="none"/>
<path d="M118.80000000000001,546.7 C121.88000000000001,546.7 122.048,536 124.4,536 C126.75200000000001,536 126.92,546.7 130.0,546.7" stroke="#000" stroke-width="1.6" fill="none"/>
<path d="M128.20000000000002,546.7 C131.28,546.7 131.448,505.7 133.8,505.7 C136.15200000000002,505.7 136.32000000000002,546.7 139.4,546.7" stroke="#000" stroke-width="1.6" fill="none"/>
<path d="M138.20000000000002,546.7 C141.28,546.7 141.448,527.5 143.8,527.5 C146.15200000000002,527.5 146.32000000000002,546.7 149.4,546.7" stroke="#e01840" stroke-width="1.6" fill="none"/>
<path d="M147.4,546.7 C150.48,546.7 150.648,525.7 153,525.7 C155.352,525.7 155.52,546.7 158.6,546.7" stroke="#2a40e0" stroke-width="1.6" fill="none"/>
<path d="M156.9,546.7 C159.98,546.7 160.148,528 162.5,528 C164.852,528 165.02,546.7 168.1,546.7" stroke="#e01840" stroke-width="1.6" fill="none"/>
<path d="M166.20000000000002,546.7 C169.28,546.7 169.448,525.5 171.8,525.5 C174.15200000000002,525.5 174.32000000000002,546.7 177.4,546.7" stroke="#e01840" stroke-width="1.6" fill="none"/>
<path d="M175.70000000000002,546.7 C178.78,546.7 178.948,509.5 181.3,509.5 C183.65200000000002,509.5 183.82000000000002,546.7 186.9,546.7" stroke="#000" stroke-width="1.6" fill="none"/>
<path d="M184.9,546.7 C187.98,546.7 188.148,529.5 190.5,529.5 C192.852,529.5 193.02,546.7 196.1,546.7" stroke="#2a40e0" stroke-width="1.6" fill="none"/>
<path d="M193.9,546.7 C196.98,546.7 197.148,530.7 199.5,530.7 C201.852,530.7 202.02,546.7 205.1,546.7" stroke="#20a838" stroke-width="1.6" fill="none"/>
<path d="M203.20000000000002,546.7 C206.28,546.7 206.448,528.2 208.8,528.2 C211.15200000000002,528.2 211.32000000000002,546.7 214.4,546.7" stroke="#2a40e0" stroke-width="1.6" fill="none"/>
<path d="M212.70000000000002,546.7 C215.78,546.7 215.948,531.2 218.3,531.2 C220.65200000000002,531.2 220.82000000000002,546.7 223.9,546.7" stroke="#000" stroke-width="1.6" fill="none"/>
<path d="M222.4,546.7 C225.48,546.7 225.648,525 228,525 C230.352,525 230.52,546.7 233.6,546.7" stroke="#2a40e0" stroke-width="1.6" fill="none"/>
</g>
<rect x="39.1" y="547.5" width="0.9" height="1" fill="#222" stroke="none" stroke-width="0" />
<rect x="58.4" y="547.5" width="0.9" height="1" fill="#222" stroke="none" stroke-width="0" />
<rect x="77.6" y="547.5" width="0.9" height="1" fill="#222" stroke="none" stroke-width="0" />
<rect x="95.89999999999999" y="547.5" width="0.9" height="1" fill="#222" stroke="none" stroke-width="0" />
<rect x="114.6" y="547.5" width="0.9" height="1" fill="#222" stroke="none" stroke-width="0" />
<rect x="133.4" y="547.5" width="0.9" height="1" fill="#222" stroke="none" stroke-width="0" />
<rect x="152.6" y="547.5" width="0.9" height="1" fill="#222" stroke="none" stroke-width="0" />
<rect x="171.4" y="547.5" width="0.9" height="1" fill="#222" stroke="none" stroke-width="0" />
<rect x="190.1" y="547.5" width="0.9" height="1" fill="#222" stroke="none" stroke-width="0" />
<rect x="208.4" y="547.5" width="0.9" height="1" fill="#222" stroke="none" stroke-width="0" />
<rect x="227.6" y="547.5" width="0.9" height="1" fill="#222" stroke="none" stroke-width="0" />
<text x="243.6" y="231" font-size="17" font-weight="bold" font-style="normal" fill="#000" text-anchor="start" stroke="#000" stroke-width="0.3">F</text>
<rect x="283.97" y="345.1" width="5.6" height="4.199999999999989" fill="#f01818" stroke="none" stroke-width="0" />
<rect x="291.44" y="343.7" width="5.6" height="5.600000000000023" fill="#f01818" stroke="none" stroke-width="0" />
<rect x="298.91" y="338.7" width="5.6" height="10.600000000000023" fill="#f01818" stroke="none" stroke-width="0" />
<rect x="306.38" y="338.7" width="5.6" height="10.600000000000023" fill="#f01818" stroke="none" stroke-width="0" />
<rect x="313.85" y="336.4" width="5.6" height="12.900000000000034" fill="#f01818" stroke="none" stroke-width="0" />
<rect x="321.32" y="332" width="5.6" height="17.30000000000001" fill="#f01818" stroke="none" stroke-width="0" />
<rect x="328.79" y="325.6" width="5.6" height="23.69999999999999" fill="#f01818" stroke="none" stroke-width="0" />
<rect x="336.26" y="323.3" width="5.6" height="26.0" fill="#f01818" stroke="none" stroke-width="0" />
<rect x="343.73" y="298.6" width="5.6" height="50.69999999999999" fill="#f01818" stroke="none" stroke-width="0" />
<rect x="351.2" y="247.6" width="5.6" height="101.70000000000002" fill="#f01818" stroke="none" stroke-width="0" />
<rect x="389.68999999999994" y="348.6" width="5.6" height="0.6999999999999886" fill="#2c6cf0" stroke="none" stroke-width="0" />
<rect x="397.15" y="348.3" width="5.6" height="1.0" fill="#2c6cf0" stroke="none" stroke-width="0" />
<rect x="404.60999999999996" y="347.7" width="5.6" height="1.6000000000000227" fill="#2c6cf0" stroke="none" stroke-width="0" />
<rect x="412.06999999999994" y="345.8" width="5.6" height="3.5" fill="#2c6cf0" stroke="none" stroke-width="0" />
<rect x="419.53" y="344.4" width="5.6" height="4.900000000000034" fill="#2c6cf0" stroke="none" stroke-width="0" />
<rect x="426.98999999999995" y="343.8" width="5.6" height="5.5" fill="#2c6cf0" stroke="none" stroke-width="0" />
<rect x="434.44999999999993" y="340.9" width="5.6" height="8.400000000000034" fill="#2c6cf0" stroke="none" stroke-width="0" />
<rect x="441.90999999999997" y="338.8" width="5.6" height="10.5" fill="#2c6cf0" stroke="none" stroke-width="0" />
<rect x="449.36999999999995" y="334.5" width="5.6" height="14.800000000000011" fill="#2c6cf0" stroke="none" stroke-width="0" />
<rect x="456.83" y="331.4" width="5.6" height="17.900000000000034" fill="#2c6cf0" stroke="none" stroke-width="0" />
<rect x="464.28999999999996" y="327.6" width="5.6" height="21.69999999999999" fill="#2c6cf0" stroke="none" stroke-width="0" />
<rect x="471.75" y="326.7" width="5.6" height="22.600000000000023" fill="#2c6cf0" stroke="none" stroke-width="0" />
<rect x="479.21" y="323.5" width="5.6" height="25.80000000000001" fill="#2c6cf0" stroke="none" stroke-width="0" />
<rect x="486.66999999999996" y="321.8" width="5.6" height="27.5" fill="#2c6cf0" stroke="none" stroke-width="0" />
<rect x="494.13" y="303.4" width="5.6" height="45.900000000000034" fill="#2c6cf0" stroke="none" stroke-width="0" />
<line x1="275.1" y1="241.8" x2="275.1" y2="350" stroke="#000" stroke-width="1.5" />
<line x1="274.40000000000003" y1="349.5" x2="502.5" y2="349.5" stroke="#000" stroke-width="1.5" />
<text x="270.4" y="250.5" font-size="6.6" font-weight="normal" font-style="normal" fill="#000" text-anchor="end" >1,500</text>
<line x1="271.6" y1="248.1" x2="275.1" y2="248.1" stroke="#000" stroke-width="0.9" />
<text x="270.4" y="284.09999999999997" font-size="6.6" font-weight="normal" font-style="normal" fill="#000" text-anchor="end" >1,000</text>
<line x1="271.6" y1="281.7" x2="275.1" y2="281.7" stroke="#000" stroke-width="0.9" />
<text x="270.4" y="317.7" font-size="6.6" font-weight="normal" font-style="normal" fill="#000" text-anchor="end" >500</text>
<line x1="271.6" y1="315.3" x2="275.1" y2="315.3" stroke="#000" stroke-width="0.9" />
<text x="270.4" y="351.4" font-size="6.6" font-weight="normal" font-style="normal" fill="#000" text-anchor="end" >0</text>
<line x1="271.6" y1="349" x2="275.1" y2="349" stroke="#000" stroke-width="0.9" />
<text transform="translate(251,297) rotate(-90)" font-size="7.75" font-weight="bold" font-style="normal" fill="#000" text-anchor="middle" ><tspan font-style="italic">MYB</tspan> exon 2–3 expression</text>
<text transform="translate(281.0,360.8) rotate(-90)" font-size="6.05" font-weight="normal" font-style="normal" fill="#000" text-anchor="middle" stroke="#000" stroke-width="0.22">197E8</text>
<text transform="translate(288.47,360.8) rotate(-90)" font-size="6.05" font-weight="normal" font-style="normal" fill="#000" text-anchor="middle" stroke="#000" stroke-width="0.22">327B4</text>
<text transform="translate(295.94,360.8) rotate(-90)" font-size="6.05" font-weight="normal" font-style="normal" fill="#000" text-anchor="middle" stroke="#000" stroke-width="0.22">236A1</text>
<text transform="translate(303.41,360.8) rotate(-90)" font-size="6.05" font-weight="normal" font-style="normal" fill="#000" text-anchor="middle" stroke="#000" stroke-width="0.22">235D4</text>
<text transform="translate(310.88,360.8) rotate(-90)" font-size="6.05" font-weight="normal" font-style="normal" fill="#000" text-anchor="middle" stroke="#000" stroke-width="0.22">290F8</text>
<text transform="translate(318.35,360.8) rotate(-90)" font-size="6.05" font-weight="normal" font-style="normal" fill="#000" text-anchor="middle" stroke="#000" stroke-width="0.22">381C7</text>
<text transform="translate(325.82,360.8) rotate(-90)" font-size="6.05" font-weight="normal" font-style="normal" fill="#000" text-anchor="middle" stroke="#000" stroke-width="0.22">73C3</text>
<text transform="translate(333.29,360.8) rotate(-90)" font-size="6.05" font-weight="normal" font-style="normal" fill="#000" text-anchor="middle" stroke="#000" stroke-width="0.22">394D7</text>
<text transform="translate(340.76,360.8) rotate(-90)" font-size="6.05" font-weight="normal" font-style="normal" fill="#000" text-anchor="middle" stroke="#000" stroke-width="0.22">404D3</text>
<text transform="translate(348.23,360.8) rotate(-90)" font-size="6.05" font-weight="normal" font-style="normal" fill="#000" text-anchor="middle" stroke="#000" stroke-width="0.22">369B5</text>
<text transform="translate(355.7,360.8) rotate(-90)" font-size="6.05" font-weight="normal" font-style="normal" fill="#000" text-anchor="middle" stroke="#000" stroke-width="0.22">133C4</text>
<text transform="translate(365.4,360.8) rotate(-90)" font-size="6.05" font-weight="normal" font-style="normal" fill="#000" text-anchor="middle" stroke="#000" stroke-width="0.22">124C1</text>
<text transform="translate(372.85999999999996,360.8) rotate(-90)" font-size="6.05" font-weight="normal" font-style="normal" fill="#000" text-anchor="middle" stroke="#000" stroke-width="0.22">163D8</text>
<text transform="translate(380.32,360.8) rotate(-90)" font-size="6.05" font-weight="normal" font-style="normal" fill="#000" text-anchor="middle" stroke="#000" stroke-width="0.22">537G8</text>
<text transform="translate(387.78,360.8) rotate(-90)" font-size="6.05" font-weight="normal" font-style="normal" fill="#000" text-anchor="middle" stroke="#000" stroke-width="0.22">626H6</text>
<text transform="translate(395.23999999999995,360.8) rotate(-90)" font-size="6.05" font-weight="normal" font-style="normal" fill="#000" text-anchor="middle" stroke="#000" stroke-width="0.22">598D6</text>
<text transform="translate(402.7,360.8) rotate(-90)" font-size="6.05" font-weight="normal" font-style="normal" fill="#000" text-anchor="middle" stroke="#000" stroke-width="0.22">626D1</text>
<text transform="translate(410.15999999999997,360.8) rotate(-90)" font-size="6.05" font-weight="normal" font-style="normal" fill="#000" text-anchor="middle" stroke="#000" stroke-width="0.22">319H5</text>
<text transform="translate(417.61999999999995,360.8) rotate(-90)" font-size="6.05" font-weight="normal" font-style="normal" fill="#000" text-anchor="middle" stroke="#000" stroke-width="0.22">454A8</text>
<text transform="translate(425.08,360.8) rotate(-90)" font-size="6.05" font-weight="normal" font-style="normal" fill="#000" text-anchor="middle" stroke="#000" stroke-width="0.22">321C6</text>
<text transform="translate(432.53999999999996,360.8) rotate(-90)" font-size="6.05" font-weight="normal" font-style="normal" fill="#000" text-anchor="middle" stroke="#000" stroke-width="0.22">139D5</text>
<text transform="translate(439.99999999999994,360.8) rotate(-90)" font-size="6.05" font-weight="normal" font-style="normal" fill="#000" text-anchor="middle" stroke="#000" stroke-width="0.22">391F7</text>
<text transform="translate(447.46,360.8) rotate(-90)" font-size="6.05" font-weight="normal" font-style="normal" fill="#000" text-anchor="middle" stroke="#000" stroke-width="0.22">383H8</text>
<text transform="translate(454.91999999999996,360.8) rotate(-90)" font-size="6.05" font-weight="normal" font-style="normal" fill="#000" text-anchor="middle" stroke="#000" stroke-width="0.22">161B4</text>
<text transform="translate(462.38,360.8) rotate(-90)" font-size="6.05" font-weight="normal" font-style="normal" fill="#000" text-anchor="middle" stroke="#000" stroke-width="0.22">610H4</text>
<text transform="translate(469.84,360.8) rotate(-90)" font-size="6.05" font-weight="normal" font-style="normal" fill="#000" text-anchor="middle" stroke="#000" stroke-width="0.22">603D6</text>
<text transform="translate(477.3,360.8) rotate(-90)" font-size="6.05" font-weight="normal" font-style="normal" fill="#000" text-anchor="middle" stroke="#000" stroke-width="0.22">627C2</text>
<text transform="translate(484.76,360.8) rotate(-90)" font-size="6.05" font-weight="normal" font-style="normal" fill="#000" text-anchor="middle" stroke="#000" stroke-width="0.22">392B2</text>
<text transform="translate(492.21999999999997,360.8) rotate(-90)" font-size="6.05" font-weight="normal" font-style="normal" fill="#000" text-anchor="middle" stroke="#000" stroke-width="0.22">288F7</text>
<text transform="translate(499.68,360.8) rotate(-90)" font-size="6.05" font-weight="normal" font-style="normal" fill="#000" text-anchor="middle" stroke="#000" stroke-width="0.22">78C8</text>
<line x1="358.5" y1="234" x2="358.5" y2="511" stroke="#333" stroke-width="1" stroke-dasharray="1 1" shape-rendering="crispEdges"/>
<text x="362.6" y="345.084" font-size="6.9" text-anchor="middle" style='font-family:"DejaVu Sans", sans-serif' fill="#000">★</text>
<text x="466.84" y="325.38399999999996" font-size="6.9" text-anchor="middle" style='font-family:"DejaVu Sans", sans-serif' fill="#000">★</text>
<text x="474.3" y="324.18399999999997" font-size="6.9" text-anchor="middle" style='font-family:"DejaVu Sans", sans-serif' fill="#000">★</text>
<text x="481.76" y="321.18399999999997" font-size="6.9" text-anchor="middle" style='font-family:"DejaVu Sans", sans-serif' fill="#000">★</text>
<text x="489.21999999999997" y="319.18399999999997" font-size="6.9" text-anchor="middle" style='font-family:"DejaVu Sans", sans-serif' fill="#000">★</text>
<text x="496.68" y="301.18399999999997" font-size="6.9" text-anchor="middle" style='font-family:"DejaVu Sans", sans-serif' fill="#000">★</text>
<rect x="387.3" y="238.8" width="7.2" height="7" fill="#f01818" stroke="none" stroke-width="0" />
<rect x="387.3" y="248.6" width="7.2" height="7" fill="#2c6cf0" stroke="none" stroke-width="0" />
<text x="398.4" y="245.3" font-size="7.7" font-weight="bold"><tspan font-style="italic">MYB–NFIB</tspan> transcript (+)</text>
<text x="398.4" y="255.2" font-size="7.7" font-weight="bold"><tspan font-style="italic">MYB–NFIB</tspan> transcript (–)</text>
<rect x="290.64" y="509" width="5.6" height="1.6000000000000227" fill="#f01818" stroke="none" stroke-width="0" />
<rect x="320.52" y="509.3" width="5.6" height="1.3000000000000114" fill="#f01818" stroke="none" stroke-width="0" />
<rect x="350.4" y="507" width="5.6" height="3.6000000000000227" fill="#f01818" stroke="none" stroke-width="0" />
<rect x="404.35999999999996" y="488.8" width="5.6" height="21.80000000000001" fill="#2c6cf0" stroke="none" stroke-width="0" />
<rect x="426.73999999999995" y="503" width="5.6" height="7.600000000000023" fill="#2c6cf0" stroke="none" stroke-width="0" />
<rect x="434.19999999999993" y="464.4" width="5.6" height="46.200000000000045" fill="#2c6cf0" stroke="none" stroke-width="0" />
<rect x="449.11999999999995" y="493" width="5.6" height="17.600000000000023" fill="#2c6cf0" stroke="none" stroke-width="0" />
<rect x="456.58" y="492" width="5.6" height="18.600000000000023" fill="#2c6cf0" stroke="none" stroke-width="0" />
<rect x="464.03999999999996" y="490.8" width="5.6" height="19.80000000000001" fill="#2c6cf0" stroke="none" stroke-width="0" />
<rect x="471.5" y="489.5" width="5.6" height="21.100000000000023" fill="#2c6cf0" stroke="none" stroke-width="0" />
<rect x="478.96" y="497.7" width="5.6" height="12.900000000000034" fill="#2c6cf0" stroke="none" stroke-width="0" />
<rect x="493.88" y="482.9" width="5.6" height="27.700000000000045" fill="#2c6cf0" stroke="none" stroke-width="0" />
<line x1="274.70000000000005" y1="388" x2="274.70000000000005" y2="511.3" stroke="#000" stroke-width="1.5" />
<line x1="274.0" y1="510.6" x2="499.8" y2="510.6" stroke="#000" stroke-width="1.5" />
<text x="270.4" y="392.4" font-size="6.6" font-weight="normal" font-style="normal" fill="#000" text-anchor="end" >1,000</text>
<line x1="271.6" y1="390" x2="275.1" y2="390" stroke="#000" stroke-width="0.9" />
<text x="270.4" y="452.7" font-size="6.6" font-weight="normal" font-style="normal" fill="#000" text-anchor="end" >500</text>
<line x1="271.6" y1="450.3" x2="275.1" y2="450.3" stroke="#000" stroke-width="0.9" />
<text x="270.4" y="513.0" font-size="6.6" font-weight="normal" font-style="normal" fill="#000" text-anchor="end" >0</text>
<line x1="271.6" y1="510.6" x2="275.1" y2="510.6" stroke="#000" stroke-width="0.9" />
<text transform="translate(251.6,456) rotate(-90)" font-size="7.75" font-weight="bold" font-style="normal" fill="#000" text-anchor="middle" ><tspan font-style="italic">MYB</tspan> exon 15–16 expression</text>
<text transform="translate(280.4,522) rotate(-90)" font-size="6.05" font-weight="normal" font-style="normal" fill="#000" text-anchor="middle" stroke="#000" stroke-width="0.22">197E8</text>
<text transform="translate(287.87,522) rotate(-90)" font-size="6.05" font-weight="normal" font-style="normal" fill="#000" text-anchor="middle" stroke="#000" stroke-width="0.22">327B4</text>
<text transform="translate(295.34,522) rotate(-90)" font-size="6.05" font-weight="normal" font-style="normal" fill="#000" text-anchor="middle" stroke="#000" stroke-width="0.22">236A1</text>
<text transform="translate(302.81,522) rotate(-90)" font-size="6.05" font-weight="normal" font-style="normal" fill="#000" text-anchor="middle" stroke="#000" stroke-width="0.22">235D4</text>
<text transform="translate(310.28,522) rotate(-90)" font-size="6.05" font-weight="normal" font-style="normal" fill="#000" text-anchor="middle" stroke="#000" stroke-width="0.22">290F8</text>
<text transform="translate(317.75,522) rotate(-90)" font-size="6.05" font-weight="normal" font-style="normal" fill="#000" text-anchor="middle" stroke="#000" stroke-width="0.22">381C7</text>
<text transform="translate(325.21999999999997,522) rotate(-90)" font-size="6.05" font-weight="normal" font-style="normal" fill="#000" text-anchor="middle" stroke="#000" stroke-width="0.22">73C3</text>
<text transform="translate(332.69,522) rotate(-90)" font-size="6.05" font-weight="normal" font-style="normal" fill="#000" text-anchor="middle" stroke="#000" stroke-width="0.22">394D7</text>
<text transform="translate(340.15999999999997,522) rotate(-90)" font-size="6.05" font-weight="normal" font-style="normal" fill="#000" text-anchor="middle" stroke="#000" stroke-width="0.22">404D3</text>
<text transform="translate(347.63,522) rotate(-90)" font-size="6.05" font-weight="normal" font-style="normal" fill="#000" text-anchor="middle" stroke="#000" stroke-width="0.22">369B5</text>
<text transform="translate(355.09999999999997,522) rotate(-90)" font-size="6.05" font-weight="normal" font-style="normal" fill="#000" text-anchor="middle" stroke="#000" stroke-width="0.22">133C4</text>
<text transform="translate(364.79999999999995,522) rotate(-90)" font-size="6.05" font-weight="normal" font-style="normal" fill="#000" text-anchor="middle" stroke="#000" stroke-width="0.22">124C1</text>
<text transform="translate(372.25999999999993,522) rotate(-90)" font-size="6.05" font-weight="normal" font-style="normal" fill="#000" text-anchor="middle" stroke="#000" stroke-width="0.22">163D8</text>
<text transform="translate(379.71999999999997,522) rotate(-90)" font-size="6.05" font-weight="normal" font-style="normal" fill="#000" text-anchor="middle" stroke="#000" stroke-width="0.22">537G8</text>
<text transform="translate(387.17999999999995,522) rotate(-90)" font-size="6.05" font-weight="normal" font-style="normal" fill="#000" text-anchor="middle" stroke="#000" stroke-width="0.22">626H6</text>
<text transform="translate(394.63999999999993,522) rotate(-90)" font-size="6.05" font-weight="normal" font-style="normal" fill="#000" text-anchor="middle" stroke="#000" stroke-width="0.22">598D6</text>
<text transform="translate(402.09999999999997,522) rotate(-90)" font-size="6.05" font-weight="normal" font-style="normal" fill="#000" text-anchor="middle" stroke="#000" stroke-width="0.22">626D1</text>
<text transform="translate(409.55999999999995,522) rotate(-90)" font-size="6.05" font-weight="normal" font-style="normal" fill="#000" text-anchor="middle" stroke="#000" stroke-width="0.22">319H5</text>
<text transform="translate(417.0199999999999,522) rotate(-90)" font-size="6.05" font-weight="normal" font-style="normal" fill="#000" text-anchor="middle" stroke="#000" stroke-width="0.22">454A8</text>
<text transform="translate(424.47999999999996,522) rotate(-90)" font-size="6.05" font-weight="normal" font-style="normal" fill="#000" text-anchor="middle" stroke="#000" stroke-width="0.22">321C6</text>
<text transform="translate(431.93999999999994,522) rotate(-90)" font-size="6.05" font-weight="normal" font-style="normal" fill="#000" text-anchor="middle" stroke="#000" stroke-width="0.22">139D5</text>
<text transform="translate(439.3999999999999,522) rotate(-90)" font-size="6.05" font-weight="normal" font-style="normal" fill="#000" text-anchor="middle" stroke="#000" stroke-width="0.22">391F7</text>
<text transform="translate(446.85999999999996,522) rotate(-90)" font-size="6.05" font-weight="normal" font-style="normal" fill="#000" text-anchor="middle" stroke="#000" stroke-width="0.22">383H8</text>
<text transform="translate(454.31999999999994,522) rotate(-90)" font-size="6.05" font-weight="normal" font-style="normal" fill="#000" text-anchor="middle" stroke="#000" stroke-width="0.22">161B4</text>
<text transform="translate(461.78,522) rotate(-90)" font-size="6.05" font-weight="normal" font-style="normal" fill="#000" text-anchor="middle" stroke="#000" stroke-width="0.22">610H4</text>
<text transform="translate(469.23999999999995,522) rotate(-90)" font-size="6.05" font-weight="normal" font-style="normal" fill="#000" text-anchor="middle" stroke="#000" stroke-width="0.22">603D6</text>
<text transform="translate(476.7,522) rotate(-90)" font-size="6.05" font-weight="normal" font-style="normal" fill="#000" text-anchor="middle" stroke="#000" stroke-width="0.22">627C2</text>
<text transform="translate(484.15999999999997,522) rotate(-90)" font-size="6.05" font-weight="normal" font-style="normal" fill="#000" text-anchor="middle" stroke="#000" stroke-width="0.22">392B2</text>
<text transform="translate(491.61999999999995,522) rotate(-90)" font-size="6.05" font-weight="normal" font-style="normal" fill="#000" text-anchor="middle" stroke="#000" stroke-width="0.22">288F7</text>
<text transform="translate(499.08,522) rotate(-90)" font-size="6.05" font-weight="normal" font-style="normal" fill="#000" text-anchor="middle" stroke="#000" stroke-width="0.22">78C8</text>
<text x="362.6" y="506.084" font-size="6.9" text-anchor="middle" style='font-family:"DejaVu Sans", sans-serif' fill="#000">★</text>
<text x="466.44" y="487.484" font-size="6.9" text-anchor="middle" style='font-family:"DejaVu Sans", sans-serif' fill="#000">★</text>
<text x="473.90000000000003" y="486.484" font-size="6.9" text-anchor="middle" style='font-family:"DejaVu Sans", sans-serif' fill="#000">★</text>
<text x="481.36" y="493.984" font-size="6.9" text-anchor="middle" style='font-family:"DejaVu Sans", sans-serif' fill="#000">★</text>
<text x="488.82" y="508.084" font-size="6.9" text-anchor="middle" style='font-family:"DejaVu Sans", sans-serif' fill="#000">★</text>
<text x="496.28000000000003" y="480.084" font-size="6.9" text-anchor="middle" style='font-family:"DejaVu Sans", sans-serif' fill="#000">★</text>
</svg>
</body></html>
